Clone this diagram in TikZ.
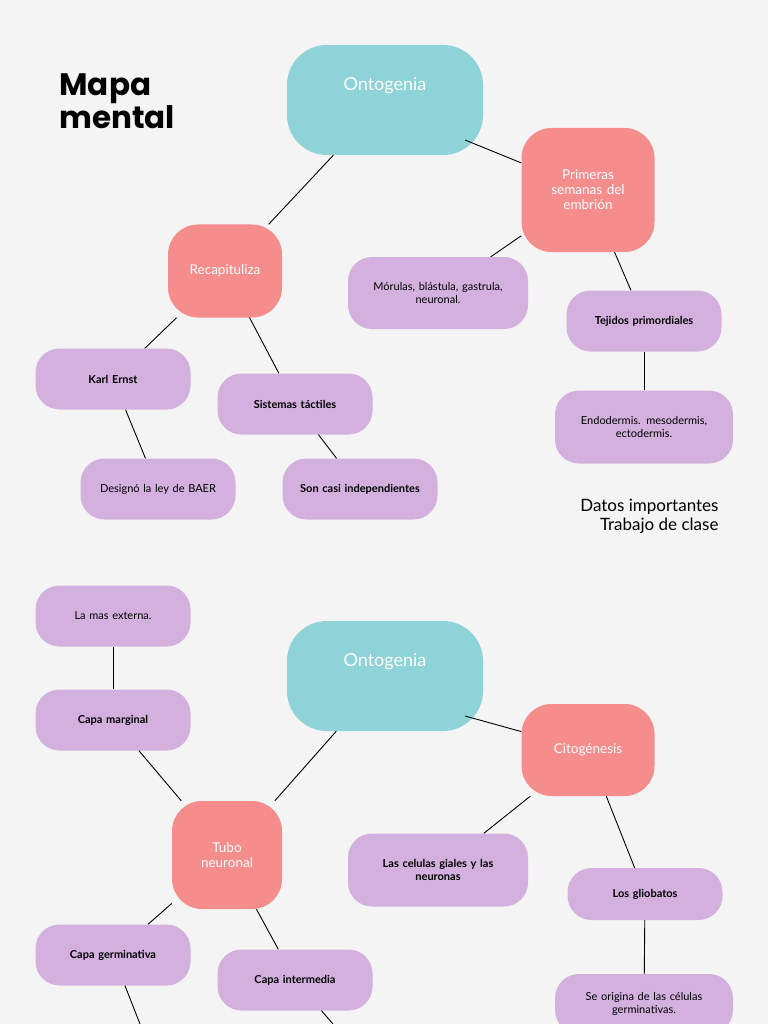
\documentclass[tikz,border=0pt]{standalone}
\usepackage{fontspec}
\setmainfont{Lato}
\newfontfamily\titlefont{Poppins}
\definecolor{bg}{HTML}{F4F4F4}
\definecolor{teal}{HTML}{8DD3D8}
\definecolor{salmon}{HTML}{F48D8C}
\definecolor{lilac}{HTML}{D4B0DF}
\tikzset{
 blob/.style={draw=none,rounded corners=28pt,inner sep=2pt,align=center},
 onto/.style={blob,fill=teal,minimum width=196pt,minimum height=110pt,text=white,font=\fontsize{18}{20}\selectfont,rounded corners=40pt},
 salm/.style={blob,fill=salmon,text=white,font=\fontsize{13.5}{15}\selectfont,rounded corners=30pt},
 lil/.style={blob,fill=lilac,minimum width=155pt,minimum height=61pt,text=black,font=\fontsize{11}{13}\selectfont\bfseries,text width=140pt,rounded corners=24pt},
 lilr/.style={lil,font=\fontsize{11}{13}\selectfont},
 conn/.style={draw=black,line width=0.9pt}
}
\begin{document}
\begin{tikzpicture}[x=1pt,y=-1pt]
\fill[bg] (0,0) rectangle (768,1024);
\useasboundingbox (0,0) rectangle (768,1024);
\node[anchor=west,align=left,font=\titlefont\bfseries\fontsize{31}{33}\selectfont] (title) at (56,101) {Mapa\\mental};
% top
\node[onto] (o1) at (385,100) {};
\node[text=white,font=\fontsize{18}{20}\selectfont] (o1t) at (385,86) {Ontogenia};
\node[salm,minimum width=133pt,minimum height=124pt,text width=110pt] (p1) at (588,190) {Primeras\\semanas del\\embrión};
\node[salm,minimum width=114pt,minimum height=93pt] (r1) at (225,271) {Recapituliza};
\node[lilr,minimum width=180pt,minimum height=72pt,text width=160pt] (m1) at (438,293) {Mórulas, blástula, gastrula,\\neuronal.};
\node[lil] (t1) at (644,321) {Tejidos primordiales};
\node[lilr,minimum width=178pt,minimum height=73pt,text width=160pt] (e1) at (644,427) {Endodermis. mesodermis,\\ectodermis.};
\node[lil] (k1) at (113,379) {Karl Ernst};
\node[lil] (s1) at (295,404) {Sistemas táctiles};
\node[lilr] (d1) at (158,489) {Designó la ley de BAER};
\node[lil] (c1) at (360,489) {Son casi independientes};
\node[anchor=east,align=right,font=\fontsize{17}{19}\selectfont] (dt) at (722,516) {Datos importantes\\Trabajo de clase};
\draw[conn] (o1) -- (r1);
\draw[conn] (465,140) -- (p1);
\draw[conn] (p1) -- (m1);
\draw[conn] (p1) -- (t1);
\draw[conn] (t1) -- (e1);
\draw[conn] (r1) -- (k1);
\draw[conn] (r1) -- (s1);
\draw[conn] (k1) -- (d1);
\draw[conn] (s1) -- (c1);
% bottom
\node[lilr] (l2) at (113,616) {La mas externa.};
\node[lil] (cm2) at (113,720) {Capa marginal};
\node[onto] (o2) at (385,676) {};
\node[text=white,font=\fontsize{18}{20}\selectfont] (o2t) at (385,662) {Ontogenia};
\node[salm,minimum width=133pt,minimum height=92pt] (ci2) at (588,750) {Citogénesis};
\node[salm,minimum width=110pt,minimum height=108pt] (tu2) at (227,855) {Tubo\\neuronal};
\node[lil,minimum width=180pt,minimum height=73pt,text width=160pt] (g2) at (438,870) {Las celulas giales y las\\neuronas};
\node[lil,minimum height=52pt] (gl2) at (645,894) {Los gliobatos};
\node[lilr,minimum width=178pt,minimum height=60pt,text width=160pt] (so2) at (644,1004) {Se origina de las células\\germinativas.};
\node[lil] (cg2) at (113,955) {Capa germinativa};
\node[lil] (ci3) at (295,980) {Capa intermedia};
\coordinate (f1) at (140,1024);
\coordinate (f2) at (333,1024);
\draw[conn] (l2) -- (cm2);
\draw[conn] (cm2) -- (tu2);
\draw[conn] (o2) -- (tu2);
\draw[conn] (465,716) -- (ci2);
\draw[conn] (ci2) -- (g2);
\draw[conn] (ci2) -- (gl2);
\draw[conn] (gl2) -- (so2);
\draw[conn] (tu2) -- (cg2);
\draw[conn] (tu2) -- (ci3);
\draw[conn] (cg2) -- (f1);
\draw[conn] (ci3) -- (f2);
\end{tikzpicture}
\end{document}
